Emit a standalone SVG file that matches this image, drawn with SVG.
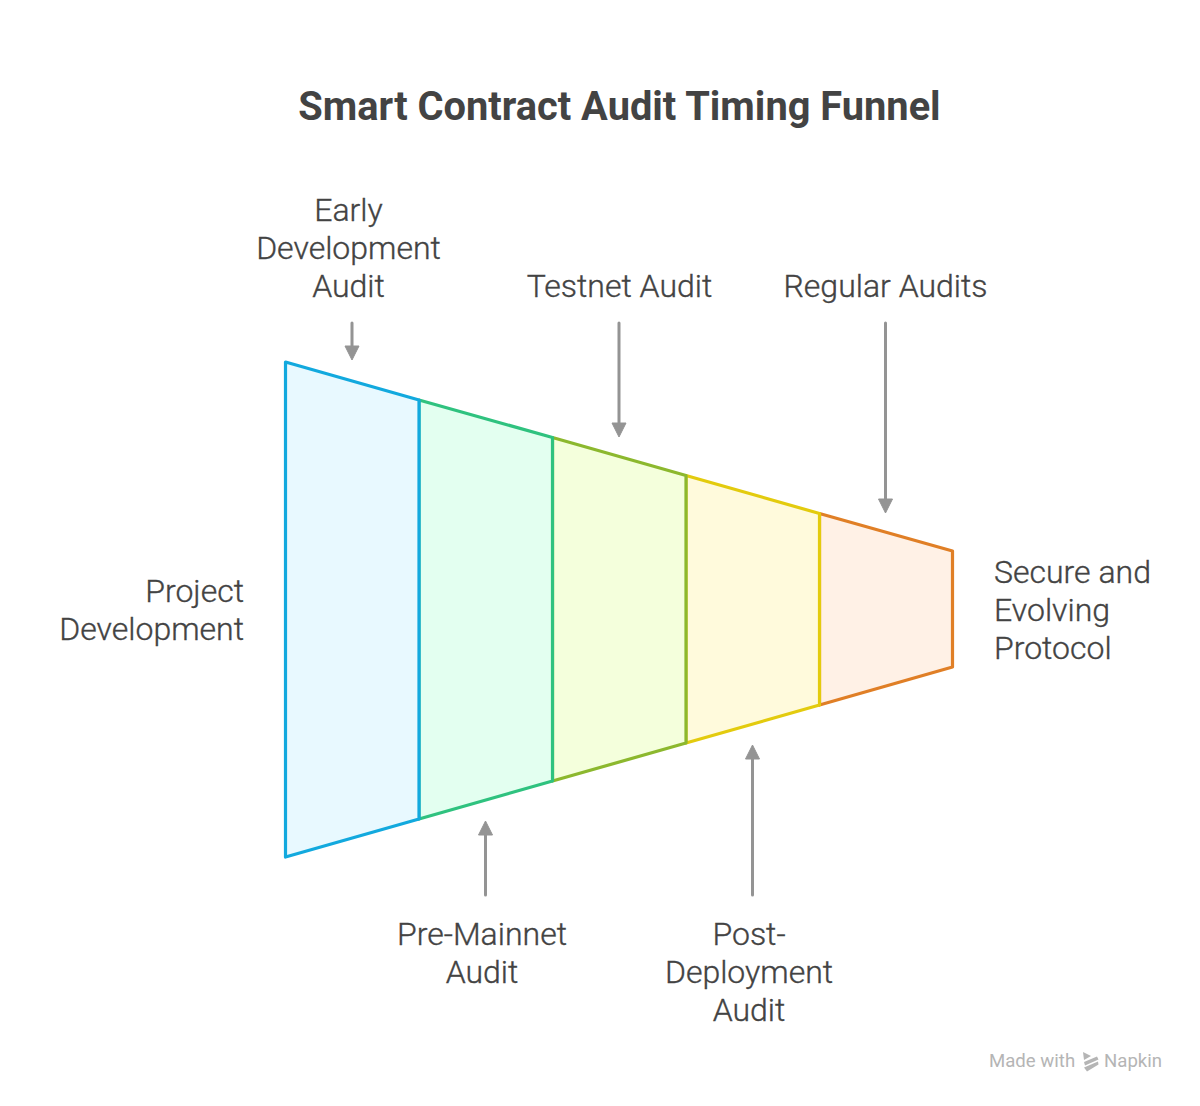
<svg xmlns="http://www.w3.org/2000/svg" width="1200" height="1106" viewBox="0 0 1200 1106">
<style>
text{font-family:Roboto,"Liberation Sans",sans-serif;fill:#434343}
.t{font-size:32px;font-weight:300;stroke:#434343;stroke-width:.35px}
.m{text-anchor:middle}
.e{text-anchor:end}
.s{stroke-width:3.2px;stroke-linejoin:round}
.a{stroke:#949494;stroke-width:3px;stroke-linecap:round;fill:none}
.h{fill:#949494;stroke:#949494;stroke-width:1px;stroke-linejoin:round}
.w{font-size:18.600px;fill:#b5b5b5}
</style>
<rect width="1200" height="1106" fill="#fff"/>
<text id="title" x="619.500" y="120" class="m" style="font-size:39.800px;font-weight:700">Smart Contract Audit Timing Funnel</text>
<g id="funnel">
<g id="stage5"><polygon class="s" points="819.500,513.500 952.500,551 952.500,667 819.500,705" fill="#fff1e6" stroke="#e07f26"/></g>
<g id="stage4"><polygon class="s" points="686,475.500 819.500,513.500 819.500,705 686,743" fill="#fffadc" stroke="#e3cb0e"/></g>
<g id="stage3"><polygon class="s" points="552.500,437.500 686,475.500 686,743 552.500,781" fill="#f4ffdc" stroke="#8cb82e"/></g>
<g id="stage2"><polygon class="s" points="419,400 552.500,437.500 552.500,781 419,819" fill="#e3fff0" stroke="#2fc27f"/></g>
<g id="stage1"><polygon class="s" points="285.500,362 419,400 419,819 285.500,857" fill="#e8f9ff" stroke="#12a9de"/></g>
</g>
<g id="connectors">
<path class="a" d="M352 323V346"/><polygon class="h" points="345,346 359,346 352,360"/>
<path class="a" d="M619 323V423"/><polygon class="h" points="612,423 626,423 619,437"/>
<path class="a" d="M885.500 323V499"/><polygon class="h" points="878.500,499 892.500,499 885.500,513"/>
<path class="a" d="M485.500 895V835"/><polygon class="h" points="478.500,835 492.500,835 485.500,821"/>
<path class="a" d="M752.500 895V759"/><polygon class="h" points="745.500,759 759.500,759 752.500,745"/>
</g>
<g id="label-early"><text class="t m" x="348.500" y="221">Early</text><text class="t m" x="348.500" y="259">Development</text><text class="t m" x="348.500" y="297">Audit</text></g>
<g id="label-testnet"><text class="t m" x="619.500" y="297">Testnet Audit</text></g>
<g id="label-regular"><text class="t m" x="885.500" y="297">Regular Audits</text></g>
<g id="label-project"><text class="t e" x="244" y="602">Project</text><text class="t e" x="244" y="640">Development</text></g>
<g id="label-secure"><text class="t" x="994" y="583">Secure and</text><text class="t" x="994" y="621">Evolving</text><text class="t" x="994" y="659">Protocol</text></g>
<g id="label-premainnet"><text class="t m" x="482" y="945">Pre-Mainnet</text><text class="t m" x="482" y="983">Audit</text></g>
<g id="label-post"><text class="t m" x="749" y="945">Post-</text><text class="t m" x="749" y="983">Deployment</text><text class="t m" x="749" y="1021">Audit</text></g>
<g id="watermark">
<text class="w" x="989" y="1067">Made with</text>
<path d="M1083 1052L1091 1056L1084 1060ZM1084 1062L1097 1056.500L1098.500 1059.500L1085 1065.500ZM1084 1067.500L1098 1061.500L1098.500 1064.500L1087 1071.500Z" fill="#b5b5b5"/>
<text class="w" x="1104" y="1067">Napkin</text>
</g>
</svg>
